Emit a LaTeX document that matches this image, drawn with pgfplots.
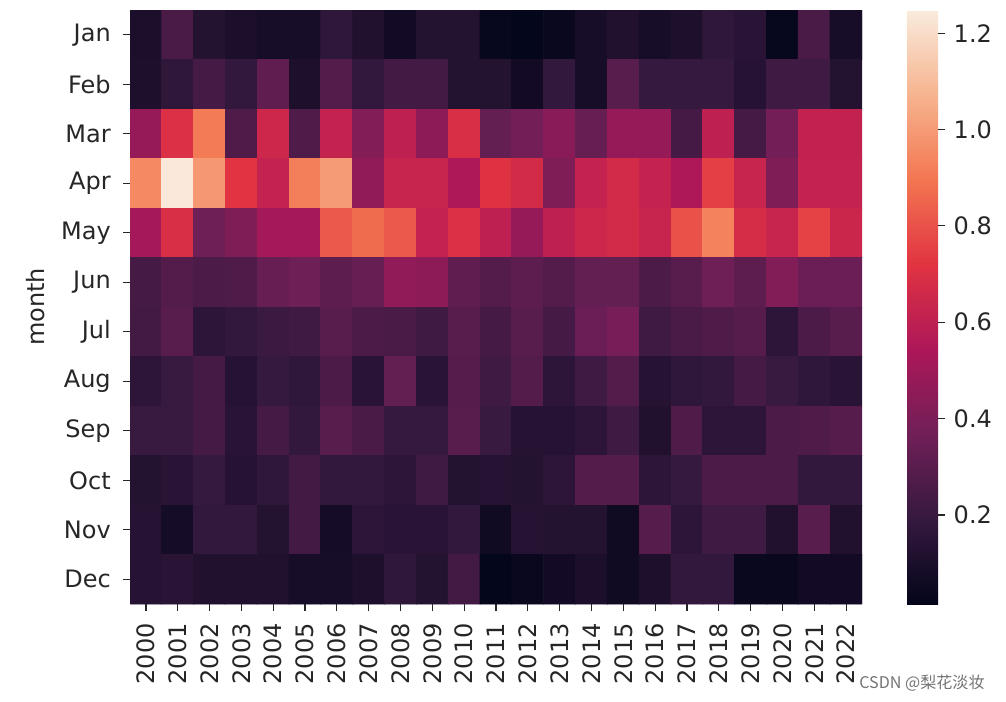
\documentclass[border=0pt]{standalone}
\usepackage{fontspec}
\setmainfont{DejaVu Sans}
\newfontfamily\cjk{Noto Sans CJK SC}
\usepackage{pgfplots}
\pgfplotsset{compat=1.18}

% seaborn "rocket"
\pgfplotsset{
  colormap={rocket}{rgb255=(3,5,26) rgb255=(53,25,62) rgb255=(112,31,87)
    rgb255=(173,23,89) rgb255=(225,51,66) rgb255=(243,118,81)
    rgb255=(246,180,143) rgb255=(250,235,221)},
}
\definecolor{txt}{RGB}{38,38,38}

\begin{document}
\begin{tikzpicture}
\begin{axis}[
  scale only axis, width=305pt, height=247.5pt,
  xmin=-0.5, xmax=22.5, ymin=-0.5, ymax=11.5,
  y dir=reverse,
  axis line style={draw=none},
  tick align=outside, major tick length=3pt,
  tick style={txt, line width=0.5pt},
  xtick pos=left, ytick pos=left,
  xtick={0,...,22},
  xticklabels={2000,2001,2002,2003,2004,2005,2006,2007,2008,2009,2010,2011,
    2012,2013,2014,2015,2016,2017,2018,2019,2020,2021,2022},
  xticklabel style={rotate=90, anchor=east, text=txt, xshift=-1.5pt},
  ytick={0,...,11},
  yticklabels={Jan,Feb,Mar,Apr,May,Jun,Jul,Aug,Sep,Oct,Nov,Dec},
  yticklabel style={text=txt, xshift=-1.5pt},
  ylabel={month}, ylabel style={text=txt},
  colormap name=rocket,
  point meta min=0.0153, point meta max=1.248,
  colorbar,
  colorbar style={
    width=12.9pt,
    at={(parent axis.north east)}, anchor=north west, xshift=10.25pt,
    axis line style={draw=none},
    ytick={0.2,0.4,0.6,0.8,1.0,1.2},
    tick align=outside, major tick length=3pt,
    tick style={txt, line width=0.5pt},
    ytick pos=right, yticklabel pos=right,
    yticklabel style={text=txt, /pgf/number format/.cd, fixed, fixed zerofill,
      precision=1, assume math mode=true},
  },
]
\addplot[matrix plot*, mesh/cols=23, point meta=explicit] coordinates {
(0,0)[0.10] (1,0)[0.25] (2,0)[0.13] (3,0)[0.10] (4,0)[0.09] (5,0)[0.09] (6,0)[0.17] (7,0)[0.12] (8,0)[0.07] (9,0)[0.13] (10,0)[0.13] (11,0)[0.03] (12,0)[0.02] (13,0)[0.04] (14,0)[0.09] (15,0)[0.12] (16,0)[0.09] (17,0)[0.11] (18,0)[0.17] (19,0)[0.15] (20,0)[0.03] (21,0)[0.25] (22,0)[0.09]

(0,1)[0.11] (1,1)[0.17] (2,1)[0.24] (3,1)[0.18] (4,1)[0.32] (5,1)[0.11] (6,1)[0.28] (7,1)[0.18] (8,1)[0.23] (9,1)[0.23] (10,1)[0.13] (11,1)[0.13] (12,1)[0.07] (13,1)[0.18] (14,1)[0.09] (15,1)[0.30] (16,1)[0.19] (17,1)[0.19] (18,1)[0.19] (19,1)[0.14] (20,1)[0.22] (21,1)[0.22] (22,1)[0.13]

(0,2)[0.48] (1,2)[0.70] (2,2)[0.91] (3,2)[0.27] (4,2)[0.65] (5,2)[0.27] (6,2)[0.62] (7,2)[0.42] (8,2)[0.60] (9,2)[0.45] (10,2)[0.69] (11,2)[0.33] (12,2)[0.38] (13,2)[0.44] (14,2)[0.34] (15,2)[0.48] (16,2)[0.48] (17,2)[0.24] (18,2)[0.60] (19,2)[0.24] (20,2)[0.38] (21,2)[0.61] (22,2)[0.61]

(0,3)[0.95] (1,3)[1.24] (2,3)[0.99] (3,3)[0.72] (4,3)[0.62] (5,3)[0.92] (6,3)[1.00] (7,3)[0.46] (8,3)[0.63] (9,3)[0.63] (10,3)[0.55] (11,3)[0.71] (12,3)[0.67] (13,3)[0.41] (14,3)[0.62] (15,3)[0.67] (16,3)[0.62] (17,3)[0.55] (18,3)[0.75] (19,3)[0.63] (20,3)[0.41] (21,3)[0.62] (22,3)[0.62]

(0,4)[0.52] (1,4)[0.69] (2,4)[0.36] (3,4)[0.41] (4,4)[0.52] (5,4)[0.52] (6,4)[0.82] (7,4)[0.87] (8,4)[0.82] (9,4)[0.62] (10,4)[0.70] (11,4)[0.60] (12,4)[0.48] (13,4)[0.60] (14,4)[0.65] (15,4)[0.67] (16,4)[0.63] (17,4)[0.80] (18,4)[0.93] (19,4)[0.68] (20,4)[0.63] (21,4)[0.76] (22,4)[0.64]

(0,5)[0.24] (1,5)[0.28] (2,5)[0.26] (3,5)[0.27] (4,5)[0.34] (5,5)[0.36] (6,5)[0.31] (7,5)[0.34] (8,5)[0.46] (9,5)[0.45] (10,5)[0.32] (11,5)[0.28] (12,5)[0.31] (13,5)[0.28] (14,5)[0.33] (15,5)[0.33] (16,5)[0.26] (17,5)[0.30] (18,5)[0.36] (19,5)[0.31] (20,5)[0.42] (21,5)[0.35] (22,5)[0.35]

(0,6)[0.23] (1,6)[0.30] (2,6)[0.16] (3,6)[0.18] (4,6)[0.21] (5,6)[0.22] (6,6)[0.30] (7,6)[0.26] (8,6)[0.25] (9,6)[0.22] (10,6)[0.30] (11,6)[0.24] (12,6)[0.30] (13,6)[0.24] (14,6)[0.35] (15,6)[0.39] (16,6)[0.22] (17,6)[0.25] (18,6)[0.27] (19,6)[0.29] (20,6)[0.16] (21,6)[0.26] (22,6)[0.30]

(0,7)[0.16] (1,7)[0.20] (2,7)[0.24] (3,7)[0.14] (4,7)[0.19] (5,7)[0.17] (6,7)[0.26] (7,7)[0.15] (8,7)[0.33] (9,7)[0.15] (10,7)[0.29] (11,7)[0.22] (12,7)[0.28] (13,7)[0.16] (14,7)[0.22] (15,7)[0.28] (16,7)[0.14] (17,7)[0.17] (18,7)[0.18] (19,7)[0.24] (20,7)[0.20] (21,7)[0.17] (22,7)[0.15]

(0,8)[0.20] (1,8)[0.20] (2,8)[0.24] (3,8)[0.15] (4,8)[0.24] (5,8)[0.18] (6,8)[0.30] (7,8)[0.25] (8,8)[0.19] (9,8)[0.19] (10,8)[0.30] (11,8)[0.20] (12,8)[0.14] (13,8)[0.14] (14,8)[0.16] (15,8)[0.22] (16,8)[0.12] (17,8)[0.27] (18,8)[0.16] (19,8)[0.16] (20,8)[0.26] (21,8)[0.27] (22,8)[0.29]

(0,9)[0.13] (1,9)[0.15] (2,9)[0.19] (3,9)[0.14] (4,9)[0.17] (5,9)[0.23] (6,9)[0.18] (7,9)[0.18] (8,9)[0.16] (9,9)[0.22] (10,9)[0.13] (11,9)[0.14] (12,9)[0.13] (13,9)[0.16] (14,9)[0.28] (15,9)[0.28] (16,9)[0.16] (17,9)[0.19] (18,9)[0.26] (19,9)[0.26] (20,9)[0.26] (21,9)[0.18] (22,9)[0.18]

(0,10)[0.14] (1,10)[0.08] (2,10)[0.18] (3,10)[0.18] (4,10)[0.13] (5,10)[0.23] (6,10)[0.08] (7,10)[0.16] (8,10)[0.15] (9,10)[0.15] (10,10)[0.18] (11,10)[0.06] (12,10)[0.14] (13,10)[0.13] (14,10)[0.13] (15,10)[0.06] (16,10)[0.29] (17,10)[0.16] (18,10)[0.22] (19,10)[0.22] (20,10)[0.12] (21,10)[0.30] (22,10)[0.12]

(0,11)[0.14] (1,11)[0.15] (2,11)[0.12] (3,11)[0.12] (4,11)[0.12] (5,11)[0.09] (6,11)[0.09] (7,11)[0.11] (8,11)[0.17] (9,11)[0.13] (10,11)[0.23] (11,11)[0.02] (12,11)[0.04] (13,11)[0.07] (14,11)[0.10] (15,11)[0.06] (16,11)[0.11] (17,11)[0.18] (18,11)[0.18] (19,11)[0.04] (20,11)[0.04] (21,11)[0.07] (22,11)[0.07]
};
\end{axis}
\node[text=black!55, font=\cjk\fontsize{6.7}{8}\selectfont] at (330pt,-32.9pt) {CSDN @梨花淡妆};
\pgfresetboundingbox
\path[use as bounding box] (-54.17pt,-40.42pt) rectangle (365pt,251.67pt);
\end{tikzpicture}
\end{document}
